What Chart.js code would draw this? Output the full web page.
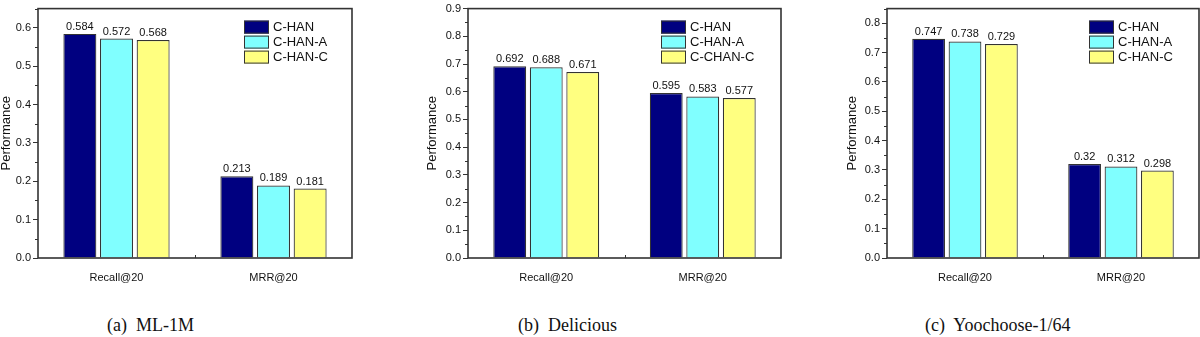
<!DOCTYPE html>
<html>
<head>
<meta charset="utf-8">
<script src="https://cdn.jsdelivr.net/npm/chart.js@4.4.0/dist/chart.umd.min.js"></script>
<style>
  html, body { margin: 0; padding: 0; background: #fff; }
  body { width: 1200px; height: 337px; position: relative; overflow: hidden; }
  .panel { position: absolute; top: 0; }
  .cap { position: absolute; top: 315px; font-family: "Liberation Serif", "Times New Roman", serif; font-size: 18px; color: #111; white-space: pre; }
</style>
</head>
<body>
<div class="panel" style="left:0px;"><canvas id="c1" width="360" height="290"></canvas></div>
<div class="panel" style="left:400px;"><canvas id="c2" width="390" height="290"></canvas></div>
<div class="panel" style="left:800px;"><canvas id="c3" width="400" height="290"></canvas></div>
<div class="cap" style="left:107px;">(a)  ML-1M</div>
<div class="cap" style="left:518px;">(b)  Delicious</div>
<div class="cap" style="left:925px;">(c)  Yoochoose-1/64</div>
<script>
// ---- data ----
const categories = ['Recall@20', 'MRR@20'];

const ml1mLabels = ['C-HAN', 'C-HAN-A', 'C-HAN-C'];
const ml1mCHAN  = [0.584, 0.213];
const ml1mCHANA = [0.572, 0.189];
const ml1mCHANC = [0.568, 0.181];
const ml1mTicks = [0, 0.1, 0.2, 0.3, 0.4, 0.5, 0.6];
const ml1mMax = 0.65;

const delLabels = ['C-HAN', 'C-HAN-A', 'C-CHAN-C'];
const delCHAN  = [0.692, 0.595];
const delCHANA = [0.688, 0.583];
const delCHANC = [0.671, 0.577];
const delTicks = [0, 0.1, 0.2, 0.3, 0.4, 0.5, 0.6, 0.7, 0.8, 0.9];
const delMax = 0.9;

const yooLabels = ['C-HAN', 'C-HAN-A', 'C-HAN-C'];
const yooCHAN  = [0.747, 0.32];
const yooCHANA = [0.738, 0.312];
const yooCHANC = [0.729, 0.298];
const yooTicks = [0, 0.1, 0.2, 0.3, 0.4, 0.5, 0.6, 0.7, 0.8];
const yooMax = 0.85;

const colors = ['#000080', '#80FFFF', '#FFFF80'];
const FONT = '"Liberation Sans", Arial, sans-serif';

const framePlugin = {
  id: 'frame',
  afterDatasetsDraw(chart) {
    const ctx = chart.ctx, a = chart.chartArea;
    const y = chart.scales.y, x = chart.scales.x;
    ctx.save();
    // value labels
    ctx.font = '11px ' + FONT;
    ctx.fillStyle = '#111';
    ctx.textAlign = 'center';
    ctx.textBaseline = 'alphabetic';
    chart.data.datasets.forEach((ds, i) => {
      chart.getDatasetMeta(i).data.forEach((el, j) => {
        ctx.fillText(String(ds.data[j]), el.x, el.y - 4);
      });
    });
    // frame
    ctx.strokeStyle = '#333';
    ctx.lineWidth = 1.6;
    ctx.strokeRect(a.left, a.top, a.right - a.left, a.bottom - a.top);
    // minor ticks
    ctx.lineWidth = 1;
    const tv = y.ticks.map(t => t.value);
    for (let k = 0; k < tv.length; k++) {
      const v = tv[k] + 0.05;
      if (v > y.max + 1e-9) continue;
      const py = Math.round(y.getPixelForValue(v)) + 0.5;
      ctx.beginPath(); ctx.moveTo(a.left - 3, py); ctx.lineTo(a.left, py); ctx.stroke();
    }
    // category boundary tick
    const mx = Math.round((x.getPixelForValue(0) + x.getPixelForValue(1)) / 2) + 0.5;
    ctx.beginPath(); ctx.moveTo(mx, a.bottom); ctx.lineTo(mx, a.bottom - 3); ctx.stroke();
    ctx.restore();
  },
  afterDraw(chart) {
    const opts = chart.options.plugins.frame;
    const ctx = chart.ctx, a = chart.chartArea;
    ctx.save();
    ctx.font = '13px ' + FONT;
    ctx.textBaseline = 'middle';
    ctx.textAlign = 'left';
    chart.data.datasets.forEach((ds, i) => {
      const bx = a.left + opts.legendX, by = a.top + opts.legendY + i * 15;
      ctx.fillStyle = ds.backgroundColor;
      ctx.fillRect(bx, by, 25, 13);
      ctx.strokeStyle = '#333';
      ctx.lineWidth = 1;
      ctx.strokeRect(bx + 0.5, by + 0.5, 24, 12);
      ctx.fillStyle = '#111';
      ctx.fillText(ds.label, bx + 29, by + 7);
    });
    ctx.restore();
  }
};

function makeChart(id, labels, s1, s2, s3, ticks, ymax, padLeft, padRight, yWidth, legendX) {
  const series = [s1, s2, s3];
  return new Chart(document.getElementById(id), {
    type: 'bar',
    data: {
      labels: categories,
      datasets: series.map((d, i) => ({
        label: labels[i],
        data: d,
        backgroundColor: colors[i],
        borderColor: '#333',
        borderWidth: 1.2,
        categoryPercentage: 0.7,
        barPercentage: 0.9
      }))
    },
    options: {
      responsive: false,
      animation: false,
      devicePixelRatio: 1,
      layout: { padding: { top: 4, right: padRight, left: padLeft, bottom: 0 } },
      plugins: {
        legend: { display: false },
        tooltip: { enabled: false },
        frame: { legendX: legendX, legendY: 12 }
      },
      scales: {
        x: {
          grid: { display: false },
          border: { display: false },
          ticks: { font: { family: FONT, size: 11 }, color: '#111', padding: 5, maxRotation: 0 },
          afterFit(s) { s.height = 32; }
        },
        y: {
          min: 0, max: ymax,
          grid: { display: true, drawOnChartArea: false, drawTicks: true, tickLength: 5, color: '#333', lineWidth: 1 },
          border: { display: false },
          ticks: { font: { family: FONT, size: 11 }, color: '#111', padding: 2,
                   callback: v => Number(v).toFixed(1) },
          afterBuildTicks(s) { s.ticks = ticks.map(v => ({ value: v })); },
          afterFit(s) { s.width = yWidth; },
          title: { display: true, text: 'Performance', font: { family: FONT, size: 13, lineHeight: 1 }, color: '#111', padding: 0 }
        }
      }
    },
    plugins: [framePlugin]
  });
}

makeChart('c1', ml1mLabels, ml1mCHAN, ml1mCHANA, ml1mCHANC, ml1mTicks, ml1mMax, 0, 8, 38, 206);
makeChart('c2', delLabels, delCHAN, delCHANA, delCHANC, delTicks, delMax, 26, 9, 42, 193);
makeChart('c3', yooLabels, yooCHAN, yooCHANA, yooCHANC, yooTicks, yooMax, 46, 1, 41, 202);
</script>
</body>
</html>
